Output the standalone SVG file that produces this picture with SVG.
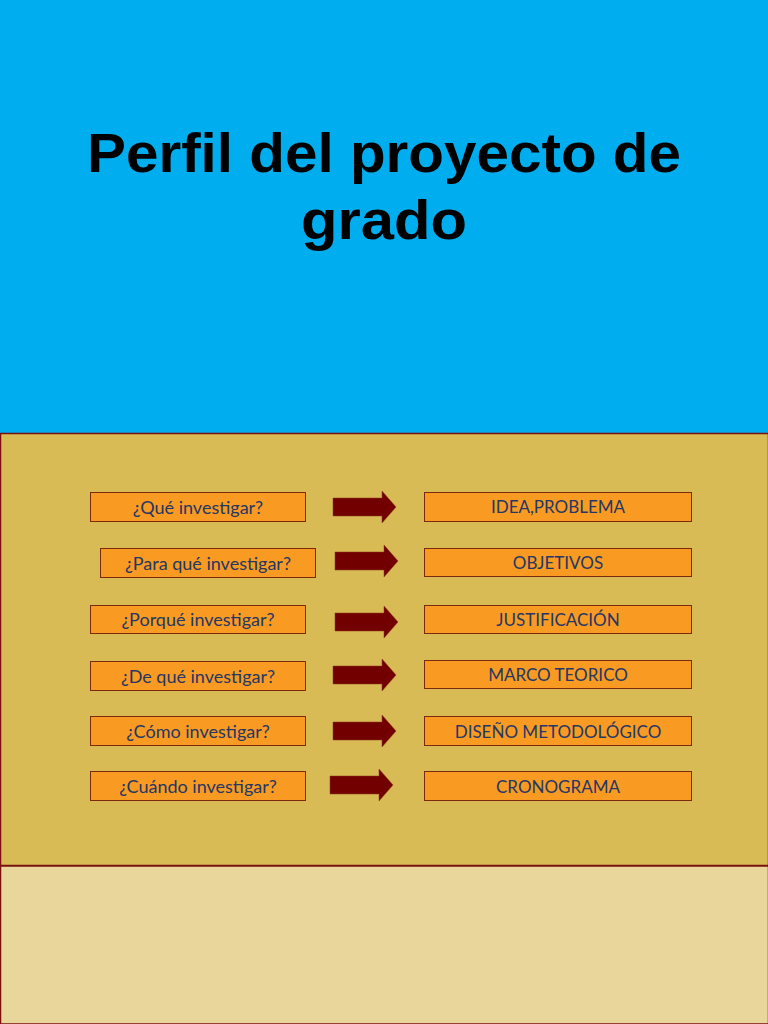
<svg xmlns="http://www.w3.org/2000/svg" width="768" height="1024" viewBox="0 0 768 1024">
<style>
.box{fill:#f99b22;stroke:#7b2a10;stroke-width:1}
.lbl{font-family:Lato,"Open Sans",sans-serif;font-size:18px;fill:#243766;text-anchor:middle}
.rl{font-size:17px}
.arr{fill:#730000;stroke:#8a3a1a;stroke-width:0.5}
.title{font-family:"Liberation Sans",Arial,sans-serif;font-weight:bold;font-size:56px;fill:#000;text-anchor:middle}
</style>
<defs>
<path id="arrow" d="M0,-9 H49 V-16 L63,0 L49,16 V9 H0 Z"/>
</defs>
<rect x="0" y="0" width="768" height="434" fill="#00aeef"/>
<rect x="0.5" y="433.5" width="768" height="432" fill="#d9bb55" stroke="#7a1010" stroke-width="1.5"/>
<rect x="0.5" y="866" width="768" height="158" fill="#e8d69a" stroke="#7a1010" stroke-width="1.5"/>
<g id="title">
<text class="title" x="384" y="172" textLength="594" lengthAdjust="spacingAndGlyphs">Perfil del proyecto de</text>
<text class="title" x="384" y="239" textLength="166" lengthAdjust="spacingAndGlyphs">grado</text>
</g>
<g id="connectors">
<use href="#arrow" class="arr" x="333" y="507"/>
<use href="#arrow" class="arr" x="335" y="561"/>
<use href="#arrow" class="arr" x="335" y="622"/>
<use href="#arrow" class="arr" x="333" y="675"/>
<use href="#arrow" class="arr" x="333" y="731"/>
<use href="#arrow" class="arr" x="330" y="785"/>
</g>
<g id="q1"><rect class="box" x="90.5" y="492.5" width="215" height="29"/><text class="lbl" x="198" y="513.5">¿Qué investigar?</text></g>
<g id="q2"><rect class="box" x="100.5" y="548.5" width="215" height="29"/><text class="lbl" x="208" y="569.5">¿Para qué investigar?</text></g>
<g id="q3"><rect class="box" x="90.5" y="605.5" width="215" height="28"/><text class="lbl" x="198" y="625.5">¿Porqué investigar?</text></g>
<g id="q4"><rect class="box" x="90.5" y="661.5" width="215" height="29"/><text class="lbl" x="198" y="682.5">¿De qué investigar?</text></g>
<g id="q5"><rect class="box" x="90.5" y="716.5" width="215" height="29"/><text class="lbl" x="198" y="737.5">¿Cómo investigar?</text></g>
<g id="q6"><rect class="box" x="90.5" y="771.5" width="215" height="29"/><text class="lbl" x="198" y="792.5">¿Cuándo investigar?</text></g>
<g id="a1"><rect class="box" x="424.5" y="492.5" width="267" height="29"/><text class="lbl rl" x="558" y="513">IDEA,PROBLEMA</text></g>
<g id="a2"><rect class="box" x="424.5" y="548.5" width="267" height="28"/><text class="lbl rl" x="558" y="568.5">OBJETIVOS</text></g>
<g id="a3"><rect class="box" x="424.5" y="605.5" width="267" height="28"/><text class="lbl rl" x="558" y="625.5">JUSTIFICACIÓN</text></g>
<g id="a4"><rect class="box" x="424.5" y="660.5" width="267" height="28"/><text class="lbl rl" x="558" y="680.5">MARCO TEORICO</text></g>
<g id="a5"><rect class="box" x="424.5" y="716.5" width="267" height="29"/><text class="lbl rl" x="558" y="737.5">DISEÑO METODOLÓGICO</text></g>
<g id="a6"><rect class="box" x="424.5" y="771.5" width="267" height="29"/><text class="lbl rl" x="558" y="792.5">CRONOGRAMA</text></g>
</svg>
